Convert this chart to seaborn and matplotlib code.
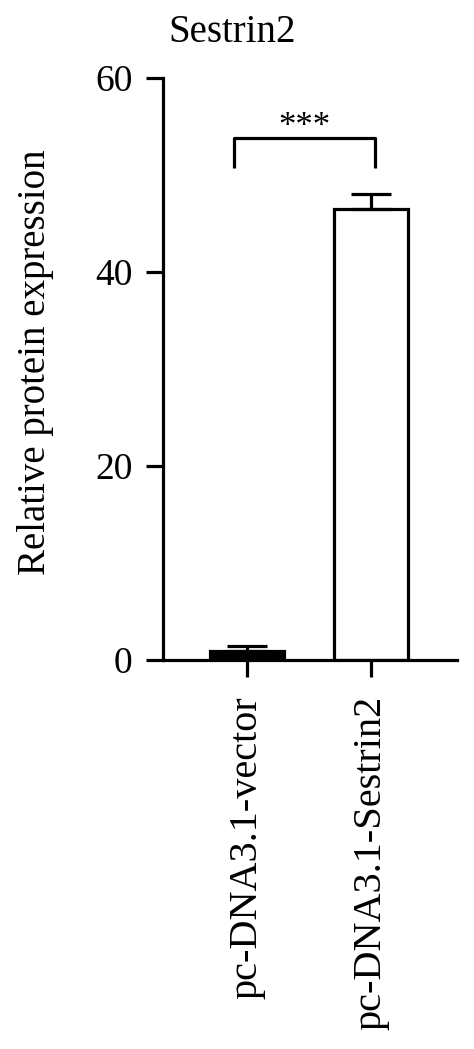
import matplotlib
matplotlib.use("Agg")
import matplotlib.pyplot as plt
import seaborn as sns
import pandas as pd

groups = ["pc-DNA3.1-vector", "pc-DNA3.1-Sestrin2"]
means = [0.9, 46.5]
sd = [0.55, 1.5]
y_ticks = [0, 20, 40, 60]
title = "Sestrin2"
ylabel = "Relative protein expression"
sig_label = "***"

df = pd.DataFrame({"group": groups, "value": means})

sns.set_style("ticks")
plt.rcParams["font.family"] = ["Liberation Serif", "DejaVu Serif"]
plt.rcParams.update({"text.color": "black", "axes.edgecolor": "black",
                     "xtick.color": "black", "ytick.color": "black",
                     "axes.labelcolor": "black"})

fig = plt.figure(figsize=(4.74, 10.49), dpi=100)
ax = fig.add_axes([163 / 474, 1 - 660 / 1049, (457 - 163) / 474, (660 - 78) / 1049])

lw = 2.3
# tiny bar renders solid, the tall one open
sns.barplot(data=df, x="group", y="value", hue="group", ax=ax,
            palette=["black", "white"], edgecolor="black", linewidth=lw,
            width=0.6, errorbar=None, legend=False, saturation=1)

# upward-only error bars
ax.errorbar(range(len(groups)), means, yerr=[[0] * len(sd), sd], fmt="none",
            ecolor="black", elinewidth=lw, capsize=14.5, capthick=lw, zorder=1)

ax.set_ylim(0, 60)
ax.set_xlim(-0.677, 1.694)
ax.set_yticks(y_ticks)
ax.set_xlabel("")
ax.set_ylabel("")
ax.tick_params(axis="y", labelsize=27, length=12, width=lw, pad=10)
ax.tick_params(axis="x", labelsize=29, length=12, width=lw, pad=14)
plt.setp(ax.get_xticklabels(), rotation=90)

sns.despine(ax=ax)
for s in ["left", "bottom"]:
    ax.spines[s].set_linewidth(lw)

# significance bracket
ax.plot([-0.105, -0.105, 1.03, 1.03], [50.7, 53.8, 53.8, 50.7], color="black",
        lw=lw, solid_capstyle="butt", clip_on=False)
ax.text(0.46, 54.0, sig_label, ha="center", va="baseline", fontsize=25)

fig.text(168 / 474, 1 - 42 / 1049, title, ha="left", va="baseline", fontsize=28)
fig.text(36 / 474, 1 - 362 / 1049, ylabel, rotation=90, ha="center", va="center",
         fontsize=28)

fig.savefig("out.png", dpi=100)
